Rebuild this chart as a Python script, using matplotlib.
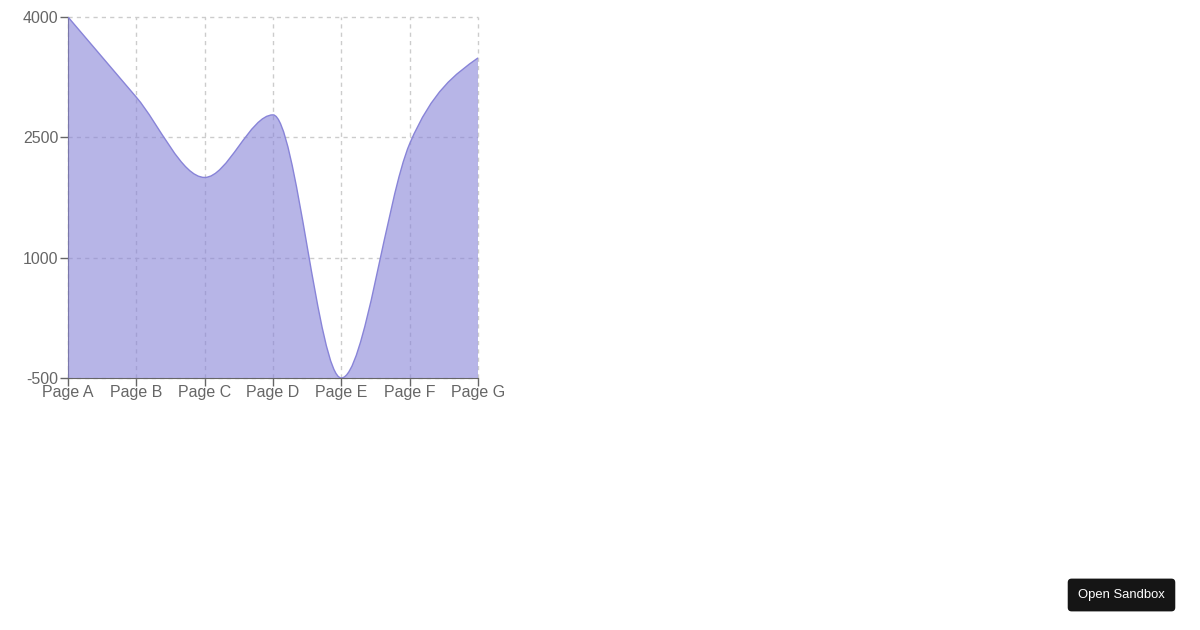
import numpy as np
import matplotlib
matplotlib.use("Agg")
import matplotlib.pyplot as plt
from matplotlib.path import Path
from matplotlib.patches import PathPatch

PAGES = ["Page A", "Page B", "Page C", "Page D", "Page E", "Page F", "Page G"]
UV = [4000, 3000, 2000, 2780, -500, 2420, 3490]
Y_TICKS = [-500, 1000, 2500, 4000]

FILL = "#8884d8"
AXIS = "#666666"
PX = 1 / 100 * 72  # one pixel in points


def monotone_tangents(x, y):
    # same rule as d3.curveMonotoneX
    n = len(x)
    t = np.zeros(n)
    for i in range(1, n - 1):
        h0 = x[i] - x[i - 1]
        h1 = x[i + 1] - x[i]
        s0 = (y[i] - y[i - 1]) / h0
        s1 = (y[i + 1] - y[i]) / h1
        p = (s0 * h1 + s1 * h0) / (h0 + h1)
        t[i] = (np.sign(s0) + np.sign(s1)) * min(abs(s0), abs(s1), 0.5 * abs(p))
    h = x[1] - x[0]
    t[0] = (3 * (y[1] - y[0]) / h - t[1]) / 2
    h = x[-1] - x[-2]
    t[-1] = (3 * (y[-1] - y[-2]) / h - t[-2]) / 2
    return t


def monotone_path(x, y, base):
    t = monotone_tangents(x, y)
    verts = [(x[0], y[0])]
    codes = [Path.MOVETO]
    for i in range(len(x) - 1):
        dx = (x[i + 1] - x[i]) / 3
        verts += [(x[i] + dx, y[i] + dx * t[i]),
                  (x[i + 1] - dx, y[i + 1] - dx * t[i + 1]),
                  (x[i + 1], y[i + 1])]
        codes += [Path.CURVE4] * 3
    line = Path(verts, codes)
    area = Path(verts + [(x[-1], base), (x[0], base), (x[0], y[0])],
                codes + [Path.LINETO, Path.LINETO, Path.CLOSEPOLY])
    return line, area


plt.rcParams["font.family"] = ["Liberation Sans", "DejaVu Sans"]
plt.rcParams["axes.unicode_minus"] = False

fig = plt.figure(figsize=(12, 6.3), dpi=100)
ax = fig.add_axes([68 / 1200, (630 - 378) / 630, 410 / 1200, 361 / 630])

xs = np.arange(len(PAGES), dtype=float)
ys = np.array(UV, dtype=float)
ax.set_xlim(0, len(PAGES) - 1)
ax.set_ylim(Y_TICKS[0], Y_TICKS[-1])

line, area = monotone_path(xs, ys, Y_TICKS[0])
ax.add_patch(PathPatch(area, facecolor=FILL, alpha=0.6, edgecolor="none", zorder=3))
ax.add_patch(PathPatch(line, facecolor="none", edgecolor=FILL, lw=1.0, zorder=4))

ax.set_xticks(xs, PAGES)
ax.set_yticks(Y_TICKS)
ax.grid(True, color="#cccccc", linestyle=(0, (3, 3)), lw=1.0)
ax.set_axisbelow(True)
for gl in ax.get_xgridlines() + ax.get_ygridlines():
    gl.set_clip_on(False)

for side in ["top", "right"]:
    ax.spines[side].set_visible(False)
for side in ["left", "bottom"]:
    ax.spines[side].set_color(AXIS)
    ax.spines[side].set_zorder(2)

ax.tick_params(colors=AXIS, labelcolor=AXIS, labelsize=16 * PX,
               length=6, width=1, pad=1)
ax.tick_params(axis="x", pad=-1)

fig.text(1121.5 / 1200, 1 - 595 / 630, "Open Sandbox", color="white",
         fontsize=13 * PX, ha="center", va="center",
         bbox=dict(boxstyle="round,pad=0.8,rounding_size=0.3",
                   facecolor="#151515", edgecolor="none"))

fig.savefig("out.png", dpi=100)
